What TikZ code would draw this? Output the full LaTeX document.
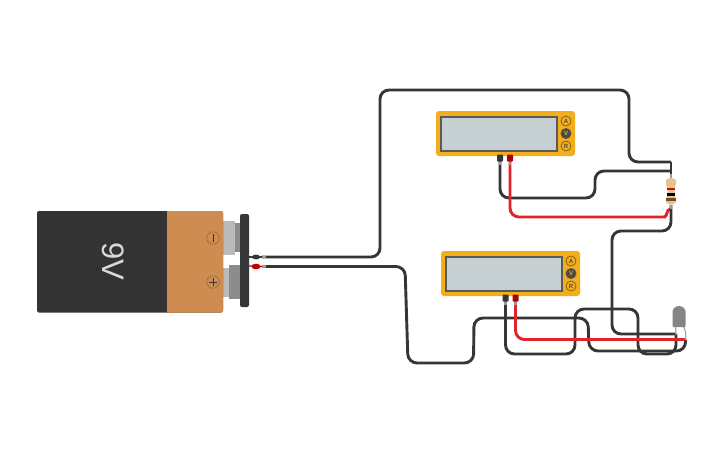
\documentclass[tikz,border=0pt]{standalone}
\usepackage{fontspec}
\setmainfont{Liberation Sans}
\definecolor{wireblk}{HTML}{343638}
\definecolor{wirered}{HTML}{E0242A}
\definecolor{amber}{HTML}{F2AE1C}
\definecolor{amberdk}{HTML}{A87A14}
\definecolor{lcd}{HTML}{C6CFD1}
\definecolor{tan}{HTML}{E2C48E}
\definecolor{copper}{HTML}{CF8C50}
\definecolor{batblk}{HTML}{333333}
\tikzset{
  blackwire/.style={draw=wireblk,line width=2.9pt,rounded corners=9pt},
  redwire/.style={draw=wirered,line width=2.9pt,rounded corners=9pt},
  meterbody/.style={draw=none,fill=amber,rounded corners=3pt,minimum width=139pt,minimum height=45pt,inner sep=0pt},
  meterscreen/.style={draw=black!65,fill=lcd,line width=2.2pt,minimum width=116pt,minimum height=34pt,inner sep=0pt},
  modebtn/.style={circle,draw=amberdk!80!black,line width=.8pt,fill=amber,text=black!70,minimum size=10pt,inner sep=0pt,font=\fontsize{6}{6}\selectfont\bfseries},
  modeon/.style={modebtn,draw=black!70,fill=black!70,text=amber},
  probe/.style={minimum width=6pt,minimum height=7pt,inner sep=0pt,rounded corners=.8pt},
  polarity/.style={circle,draw=black!30!copper,line width=.5pt,fill=copper,text=black!80,minimum size=12.5pt,inner sep=0pt},
  wiretip/.style={draw=black!40,line width=2.4pt}
}
\begin{document}
\begin{tikzpicture}[x=1pt,y=-1pt]
\useasboundingbox (0,0) rectangle (725,453);
\fill[white] (0,0) rectangle (725,453);
% battery terminals
\fill[black!27] (223,221) rectangle (235,255);
\fill[black!45] (235,223) rectangle (240,252);
\fill[black!27] (223,268) rectangle (229,297);
\fill[black!45] (229,265) rectangle (240,299);
% battery body
\fill[batblk,rounded corners=2pt] (37,211) rectangle (223,312.5);
\begin{scope}
\clip[rounded corners=2pt] (37,211) rectangle (223,312.5);
\fill[copper] (167,205) rectangle (230,320);
\end{scope}
\node[font=\fontsize{31}{31}\selectfont,text=black!15,rotate=-90] (ninev) at (113,261) {9V};
\node[polarity] (minus) at (213,238) {};
\node[polarity] (plus) at (213,282) {};
\draw[black!80,line width=.8pt] (minus.center)+(0,-4) -- +(0,4);
\draw[black!80,line width=.8pt] (plus.center)+(0,-4) -- +(0,4) (plus.center)+(-4,0) -- +(4,0);
% connector bar
\fill[wireblk,rounded corners=2pt] (240,214) rectangle (249,307);
% battery clips
\coordinate (bneg) at (262,257);
\coordinate (bpos) at (262,266.5);
\draw[wireblk,line width=1.2pt] (249,257) -- (bneg);
\draw[red!75!black,line width=1.2pt] (249,266) -- (bpos);
% meters
\node[meterbody] (m1) at (505.5,133.5) {};
\node[meterscreen] (s1) at (499,134) {};
\node[modebtn] (a1) at (566,121) {A};
\node[modeon] (v1) at (566,133.5) {V};
\node[modebtn] (r1) at (566,146) {R};
\node[meterbody] (m2) at (510.5,273.5) {};
\node[meterscreen] (s2) at (504,274) {};
\node[modebtn] (a2) at (571,261) {A};
\node[modeon] (v2) at (571,273.5) {V};
\node[modebtn] (r2) at (571,286) {R};
% named ends
\coordinate (rtop) at (671,178);
\coordinate (rbot) at (671,205);
\coordinate (ledc) at (676,334);
\coordinate (leda) at (685.5,339.5);
\coordinate (p1k) at (500,161);
\coordinate (p1r) at (510,161);
\coordinate (p2k) at (505.5,301);
\coordinate (p2r) at (515.5,301);
% wires
\draw[blackwire] (p1k) -- (500,198) -- (595,198) -- (595,171) -- (671,171);
\draw[redwire] (p1r) -- (510,217) -- (666,217);
\draw[redwire,rounded corners=3pt] (664,217) -- (667,216) -- (667,210) -- (671,209);
\draw[blackwire] (bneg) -- (380,257) -- (380,90) -- (629,90) -- (629,162) -- (671,162);
\draw[blackwire,rounded corners=0pt] (671,162) -- (rtop);
\draw[blackwire] (rbot) -- (671,231) -- (612,231) -- (612,334) -- (ledc);
\draw[blackwire] (bpos) -- (405,266.5) -- (408,363) -- (473.5,363) -- (474,318) -- (588,318) -- (589,351) -- (685.5,351) -- (leda);
\draw[blackwire] (p2k) -- (505.5,354) -- (575,354) -- (575,309) -- (638,309) -- (638,354) -- (676,354) -- (676,334);
\draw[redwire] (p2r) -- (515.5,339.5) -- (leda);
% wire tips
\draw[wiretip] (500,161) -- (500,165);
\draw[wiretip] (510,161) -- (510,165);
\draw[wiretip] (505.5,301) -- (505.5,305);
\draw[wiretip] (515.5,301) -- (515.5,305);
\draw[wiretip] (262,257) -- (266,257);
\draw[wiretip] (262,266.5) -- (266,266.5);
\draw[wiretip] (671,174) -- (671,178);
\draw[wiretip] (671,205) -- (671,209);
% battery clips on top
\fill[wireblk] (256,257) ellipse (4pt and 2.4pt);
\fill[red!75!black] (256,266.5) ellipse (4.5pt and 2.8pt);
% probes
\node[probe,fill=wireblk] (pk1) at (500,158) {};
\node[probe,fill=red!70!black] (pr1) at (510,158) {};
\node[probe,fill=wireblk] (pk2) at (505.5,298) {};
\node[probe,fill=red!70!black] (pr2) at (515.5,298) {};
% resistor
\fill[tan] (666,180) .. controls (668,177.5) and (674,177.5) .. (676,180) -- (676,184) .. controls (675,186) and (674.5,186) .. (674.5,188) -- (674.5,195) .. controls (674.5,197) and (675.5,197) .. (676,199) -- (676,202) .. controls (674,205.5) and (668,205.5) .. (666,202) -- (666,199) .. controls (666.5,197) and (667.5,197) .. (667.5,195) -- (667.5,188) .. controls (667.5,186) and (667,186) .. (666,184) -- cycle;
\fill[red!90!black] (667.3,187.5) rectangle (674.7,190);
\fill[black] (667.3,192.5) rectangle (674.7,195.5);
\fill[black!40!brown] (666,198) rectangle (676,200.5);
% LED
\draw[black!35,line width=1.2pt] (675.5,326) -- (676,335);
\draw[black!35,line width=1.2pt] (683,326) .. controls (686,330) and (686,334) .. (685.5,339);
\fill[black!48,rounded corners=1pt] (672.5,327) -- (672.5,312.5) arc[start angle=180,end angle=0,radius=6.5pt] -- (685.5,327) -- cycle;
\end{tikzpicture}
\end{document}
